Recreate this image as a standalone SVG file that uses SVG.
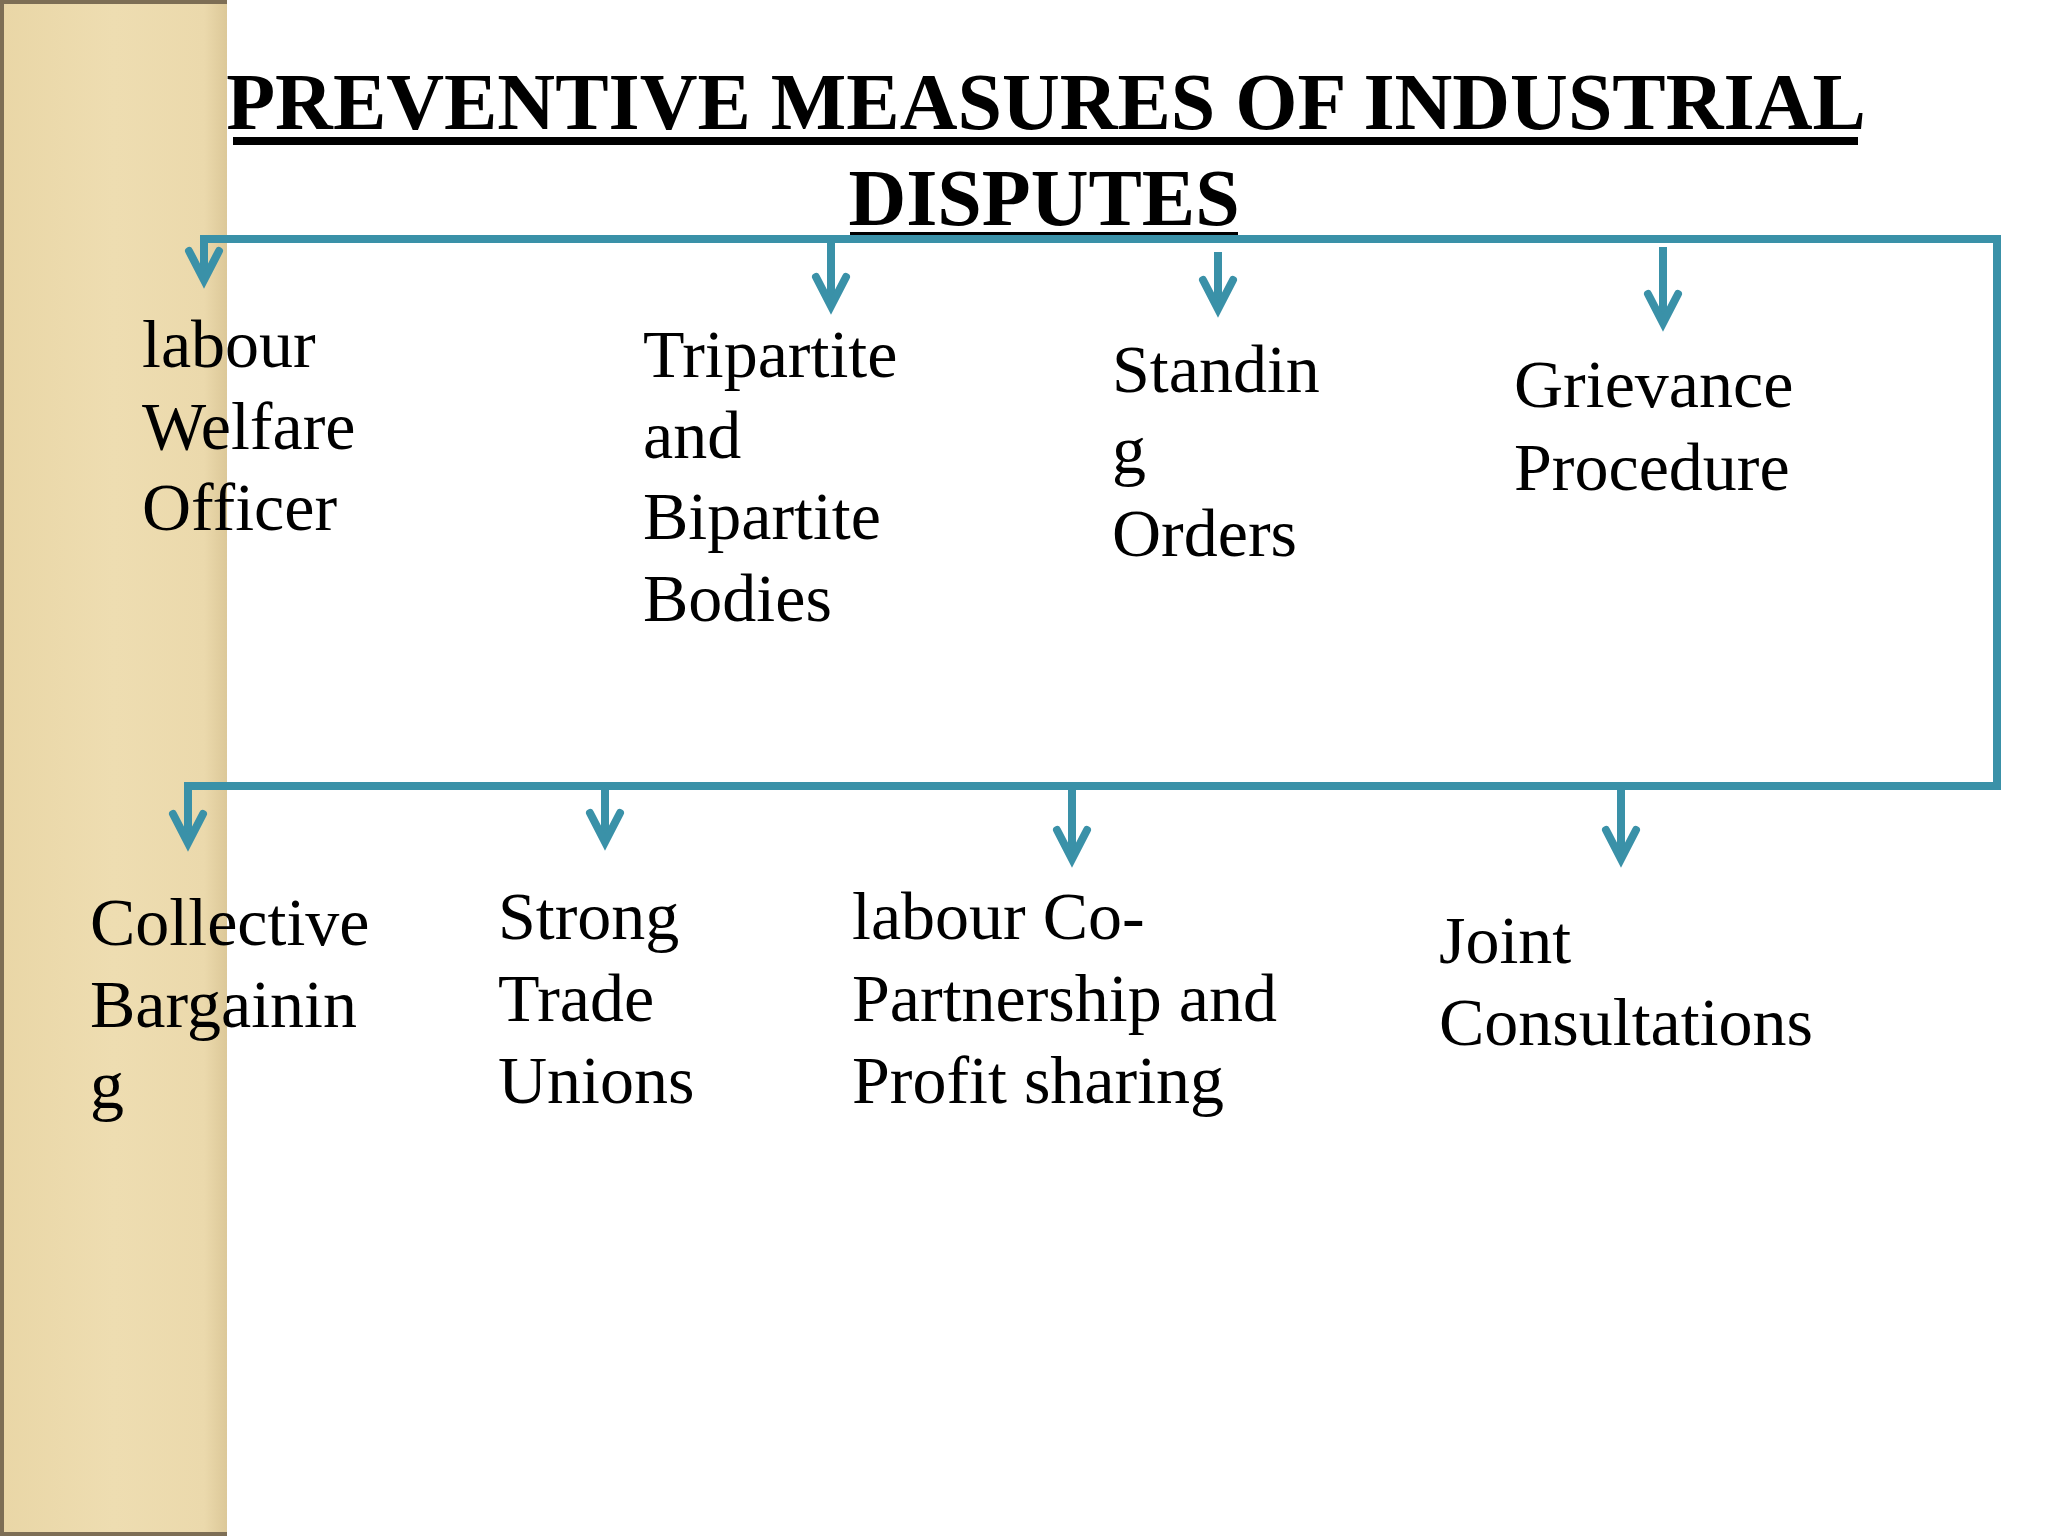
<svg xmlns="http://www.w3.org/2000/svg" width="2048" height="1536" viewBox="0 0 2048 1536">
<defs>
<linearGradient id="strip" x1="0" y1="0" x2="1" y2="0">
<stop offset="0" stop-color="#E9D6A6"/>
<stop offset="0.5" stop-color="#EEDDB1"/>
<stop offset="0.9" stop-color="#EBD9AC"/>
<stop offset="1" stop-color="#DCC898"/>
</linearGradient>
<style>
.t{font-family:"Liberation Serif","Times New Roman",serif;font-size:68px;fill:#000}
.title{font-family:"Liberation Serif","Times New Roman",serif;font-size:80px;font-weight:bold;fill:#000}
.c{fill:none;stroke:#3A91A8;stroke-width:8}
.h{fill:none;stroke:#3A91A8;stroke-width:8;stroke-linecap:round;stroke-linejoin:miter}
</style>
</defs>
<rect x="0" y="0" width="2048" height="1536" fill="#FFFFFF"/>
<rect x="0" y="0" width="227" height="1536" fill="url(#strip)"/>
<path d="M227 2 H2 V1534 H227" fill="none" stroke="#7D6E55" stroke-width="4"/>

<g id="title">
<text class="title" x="1046" y="129" text-anchor="middle">PREVENTIVE MEASURES OF INDUSTRIAL</text>
<rect x="233" y="137" width="1625" height="8" fill="#000"/>
<text class="title" x="1044" y="225" text-anchor="middle">DISPUTES</text>
<rect x="850" y="232" width="388" height="5" fill="#000"/>
</g>

<g id="connectors">
<path class="c" d="M200 239 H1997 V786 H188"/>
<line class="c" x1="204" y1="239" x2="204" y2="280"/>
<polyline class="h" points="189,251 204,280 219,251"/>
<line class="c" x1="831" y1="239" x2="831" y2="306"/>
<polyline class="h" points="816,277 831,306 846,277"/>
<line class="c" x1="1218" y1="252" x2="1218" y2="309"/>
<polyline class="h" points="1203,280 1218,309 1233,280"/>
<line class="c" x1="1663" y1="247" x2="1663" y2="323"/>
<polyline class="h" points="1648,294 1663,323 1678,294"/>
<line class="c" x1="188" y1="782" x2="188" y2="843"/>
<polyline class="h" points="173,814 188,843 203,814"/>
<line class="c" x1="605" y1="786" x2="605" y2="842"/>
<polyline class="h" points="590,813 605,842 620,813"/>
<line class="c" x1="1072" y1="786" x2="1072" y2="859"/>
<polyline class="h" points="1057,830 1072,859 1087,830"/>
<line class="c" x1="1621" y1="786" x2="1621" y2="859"/>
<polyline class="h" points="1606,830 1621,859 1636,830"/>
</g>

<g id="n1"><text class="t"><tspan x="142" y="367">labour</tspan><tspan x="142" y="449">Welfare</tspan><tspan x="142" y="530">Officer</tspan></text></g>
<g id="n2"><text class="t"><tspan x="643" y="377">Tripartite</tspan><tspan x="643" y="458">and</tspan><tspan x="643" y="539">Bipartite</tspan><tspan x="643" y="621">Bodies</tspan></text></g>
<g id="n3"><text class="t"><tspan x="1112" y="392">Standin</tspan><tspan x="1112" y="473">g</tspan><tspan x="1112" y="556">Orders</tspan></text></g>
<g id="n4"><text class="t"><tspan x="1514" y="407">Grievance</tspan><tspan x="1514" y="490">Procedure</tspan></text></g>
<g id="n5"><text class="t"><tspan x="90" y="945">Collective</tspan><tspan x="90" y="1027">Bargainin</tspan><tspan x="90" y="1108">g</tspan></text></g>
<g id="n6"><text class="t"><tspan x="498" y="939">Strong</tspan><tspan x="498" y="1021">Trade</tspan><tspan x="498" y="1103">Unions</tspan></text></g>
<g id="n7"><text class="t"><tspan x="852" y="939">labour Co-</tspan><tspan x="852" y="1021">Partnership and</tspan><tspan x="852" y="1103">Profit sharing</tspan></text></g>
<g id="n8"><text class="t"><tspan x="1439" y="963">Joint</tspan><tspan x="1439" y="1045">Consultations</tspan></text></g>
</svg>
